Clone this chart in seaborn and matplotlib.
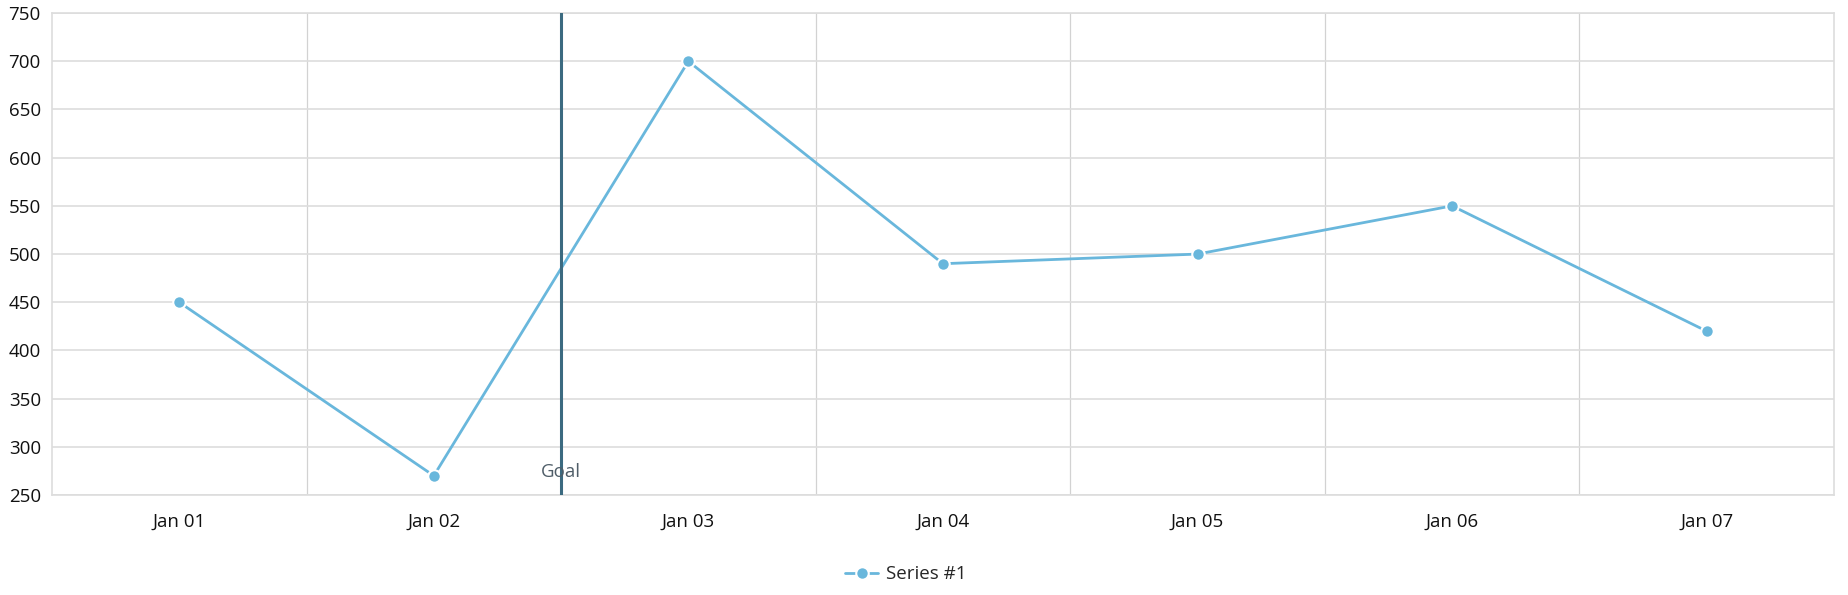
import numpy as np
import pandas as pd
import matplotlib
matplotlib.use("Agg")
import matplotlib.pyplot as plt
import seaborn as sns
from matplotlib.lines import Line2D

# ── data ─────────────────────────────────────
days = ["Jan 01", "Jan 02", "Jan 03", "Jan 04", "Jan 05", "Jan 06", "Jan 07"]
values = [450, 270, 700, 490, 500, 550, 420]
series_name = "Series #1"
goal_pos = 1.5          # between Jan 02 and Jan 03
goal_label = "Goal"
y_ticks = [250, 300, 350, 400, 450, 500, 550, 600, 650, 700, 750]

df = pd.DataFrame({"day": days, "value": values})

sns.set_theme(style="white")
plt.rcParams["font.family"] = ["Open Sans", "DejaVu Sans"]

line_color = "#69b7dc"
grid_color = "#dddddd"

fig = plt.figure(figsize=(18.48, 5.95), dpi=100)
ax = fig.add_axes([0.0281, 0.168, 0.9643, 0.810])

sns.lineplot(data=df, x="day", y="value", ax=ax, color=line_color,
             linewidth=2, marker="o", markersize=9,
             markeredgecolor="white", markeredgewidth=1.5, sort=False)

ax.set_xlim(-0.5, len(days) - 0.5)
ax.set_ylim(y_ticks[0], y_ticks[-1])
ax.set_yticks(y_ticks)
ax.set_xticks(range(len(days)))
ax.set_xticklabels(days)
ax.set_xticks(np.arange(0.5, len(days) - 0.5, 1), minor=True)

ax.grid(axis="y", which="major", color=grid_color, linewidth=1.2)
ax.grid(axis="x", which="minor", color="#d2d2d2", linewidth=0.9)
ax.grid(axis="x", which="major", visible=False)
ax.set_axisbelow(True)

for s in ax.spines.values():
    s.set_color(grid_color)
    s.set_linewidth(1.2)

ax.tick_params(axis="both", which="both", length=0, labelsize=13.5,
               colors="#111111")
ax.tick_params(axis="x", pad=13)
ax.tick_params(axis="y", pad=8)
ax.set_xlabel("")
ax.set_ylabel("")

# goal marker
ax.axvline(goal_pos, color="#3b6a80", linewidth=2.2, zorder=3)
ax.text(goal_pos, 265, goal_label, ha="center", va="bottom",
        fontsize=13.5, color="#4f5d68", zorder=4)

handle = Line2D([0], [0], color=line_color, linewidth=2, marker="o",
                markersize=9, markeredgecolor="white", markeredgewidth=1.5)
fig.legend([handle], [series_name], loc="center", bbox_to_anchor=(0.49, 0.035),
           frameon=False, fontsize=13.5, handlelength=1.8, handletextpad=0.4)

fig.savefig("out.png", dpi=100)
plt.close(fig)
